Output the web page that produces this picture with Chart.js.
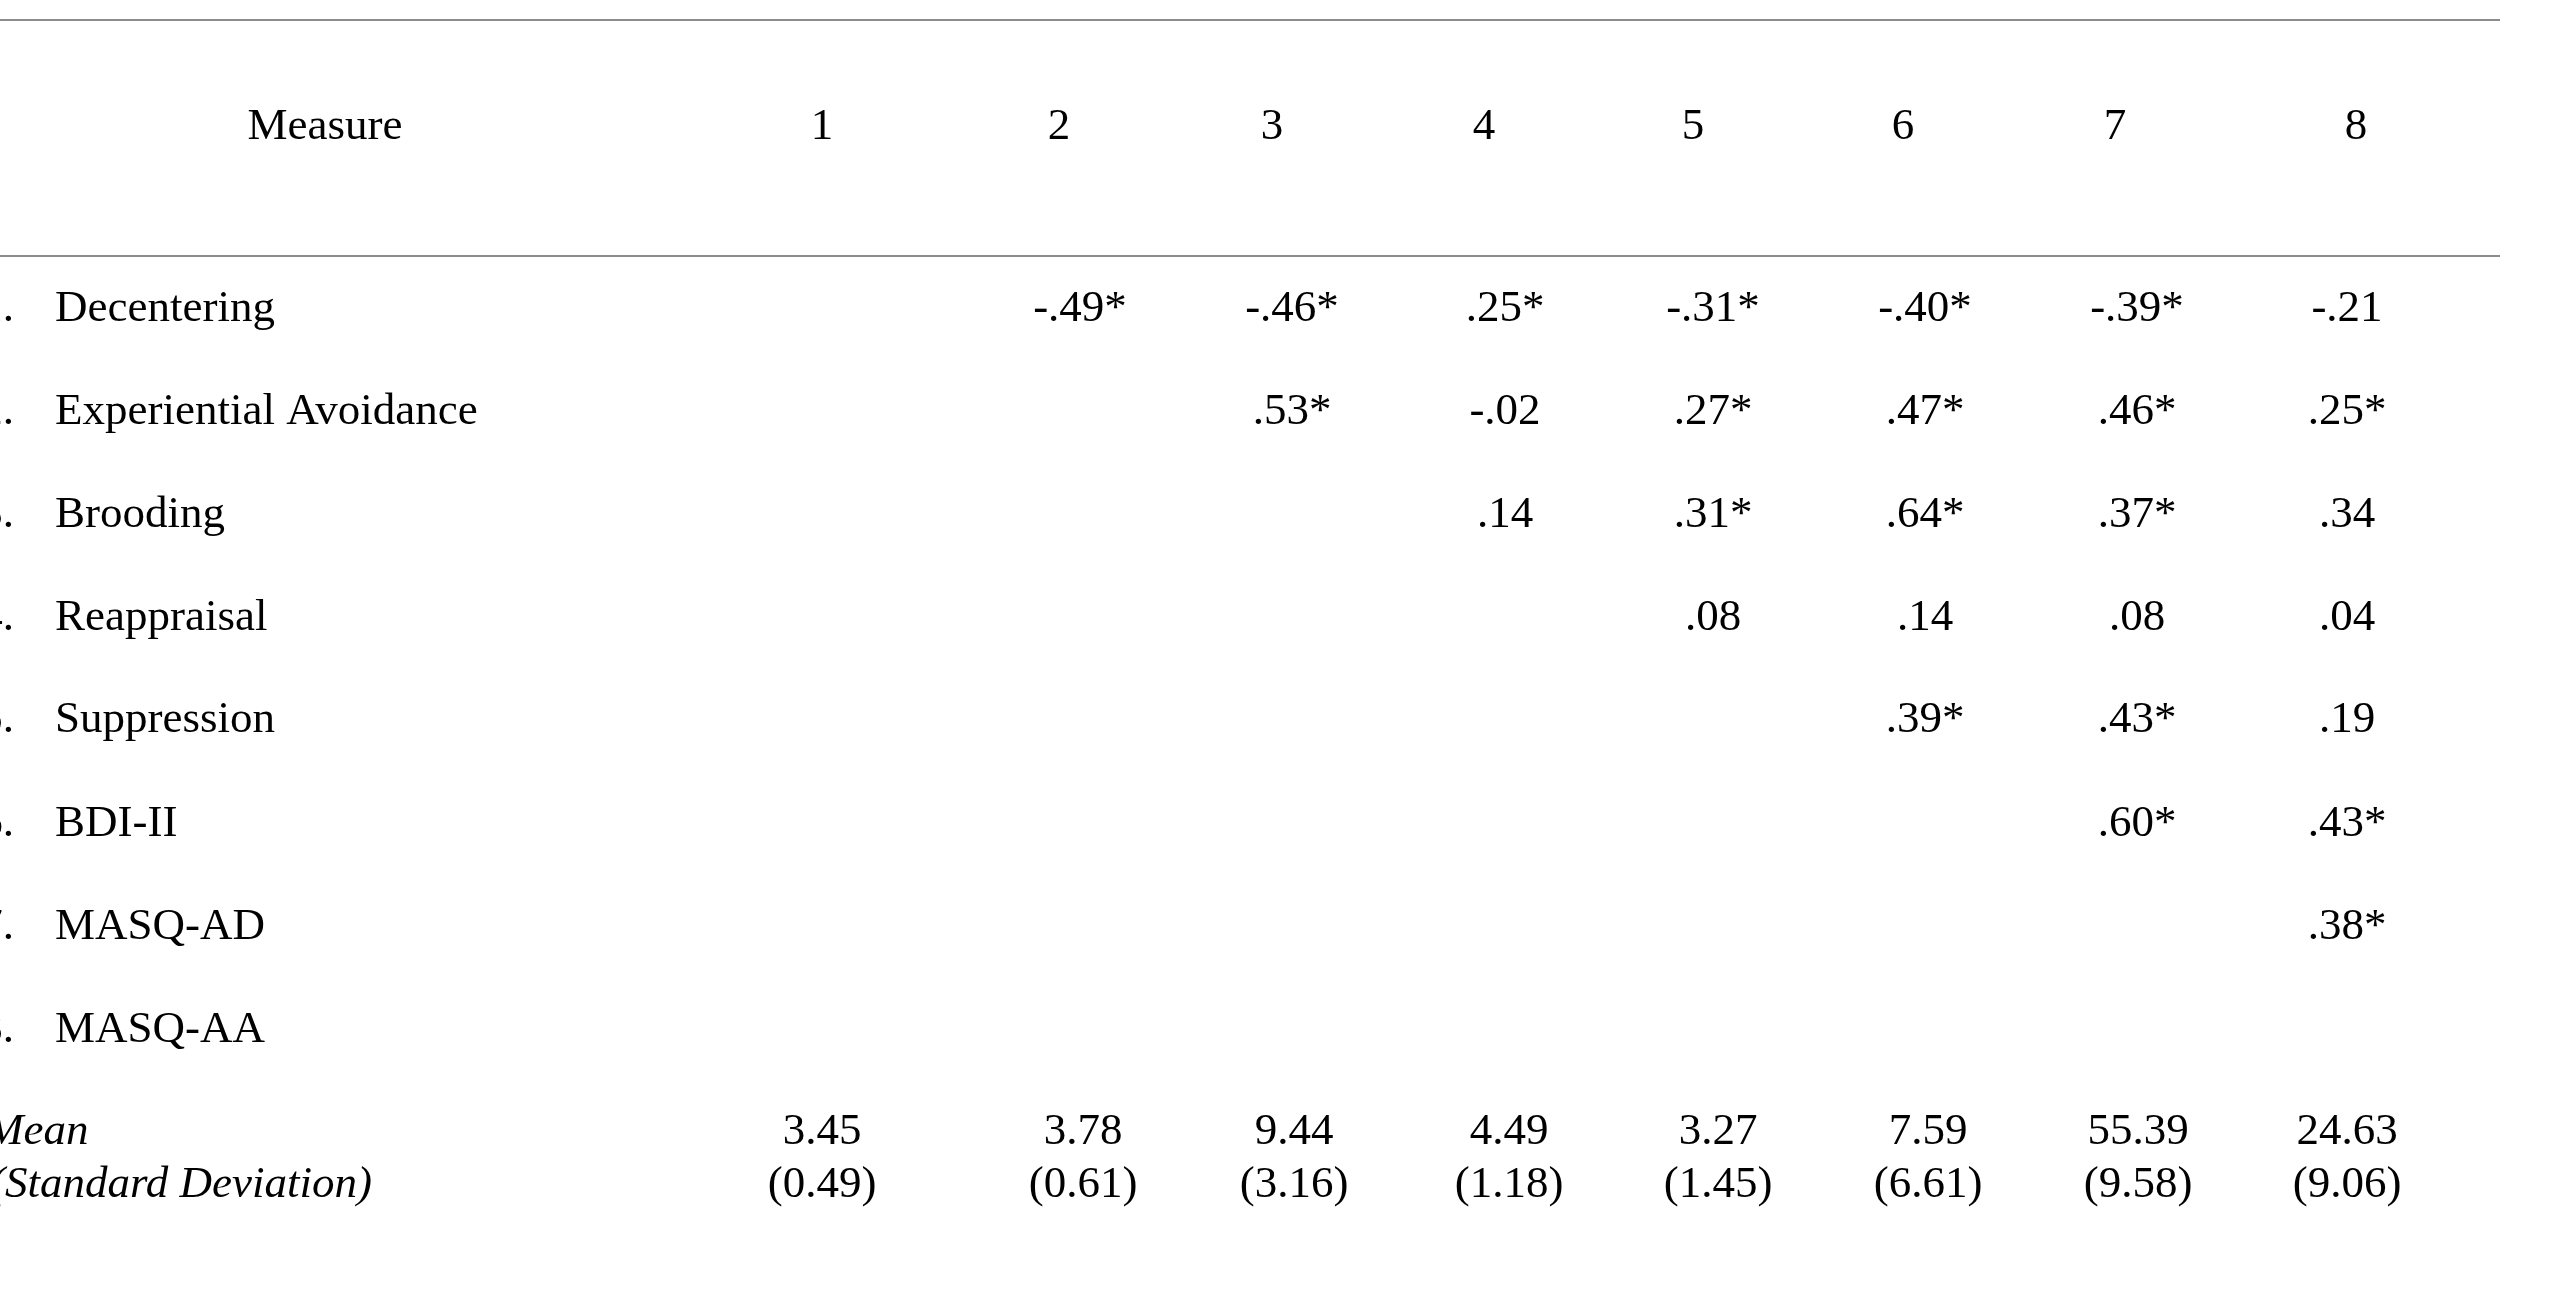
<!DOCTYPE html>
<html><head><meta charset="utf-8">
<script src="https://cdn.jsdelivr.net/npm/chart.js@4"></script>
<style>html,body{margin:0;padding:0;background:#fff;overflow:hidden}</style>
</head><body>
<canvas id="c" width="2556" height="1300" style="width:2556px;height:1300px"></canvas>
<script>
// ---- data ----
const columnHeaders = ["1","2","3","4","5","6","7","8"];
const measures = ["Decentering","Experiential Avoidance","Brooding","Reappraisal","Suppression","BDI-II","MASQ-AD","MASQ-AA"];
const correlations = [
  [null,"-.49*","-.46*",".25*","-.31*","-.40*","-.39*","-.21"],
  [null,null,".53*","-.02",".27*",".47*",".46*",".25*"],
  [null,null,null,".14",".31*",".64*",".37*",".34"],
  [null,null,null,null,".08",".14",".08",".04"],
  [null,null,null,null,null,".39*",".43*",".19"],
  [null,null,null,null,null,null,".60*",".43*"],
  [null,null,null,null,null,null,null,".38*"],
  [null,null,null,null,null,null,null,null]
];
const means = ["3.45","3.78","9.44","4.49","3.27","7.59","55.39","24.63"];
const sds = ["(0.49)","(0.61)","(3.16)","(1.18)","(1.45)","(6.61)","(9.58)","(9.06)"];

// ---- layout (pixel positions in scale units) ----
const headerX = [822,1059,1272,1484,1693,1903,2115,2356];
const cellX   = [822,1080,1292,1505,1713,1925,2137,2347];
const statX   = [822,1083,1294,1509,1718,1928,2138,2347];
const rowY = [309,412,515,618,720,824,927,1030];
const headerY = 127, meanY = 1132, sdY = 1185;
const lines = [20, 256];
const FONT = '"Liberation Serif","Times New Roman",serif';

const pts = [];
correlations.forEach((r,i)=>r.forEach((v,j)=>{ if(v!==null) pts.push({x:cellX[j],y:rowY[i],t:v}); }));

const tablePlugin = {
  id:'table',
  afterDatasetsDraw(chart){
    const {ctx, scales:{x,y}} = chart;
    const X=v=>x.getPixelForValue(v), Y=v=>y.getPixelForValue(v);
    ctx.save();
    ctx.strokeStyle='#666'; ctx.lineWidth=1.5;
    lines.forEach(l=>{ctx.beginPath();ctx.moveTo(X(0),Y(l));ctx.lineTo(X(2500),Y(l));ctx.stroke();});
    ctx.fillStyle='#000'; ctx.textBaseline='middle';
    ctx.font='45px '+FONT;
    ctx.textAlign='center';
    ctx.fillText('Measure',X(325),Y(headerY));
    columnHeaders.forEach((h,j)=>ctx.fillText(h,X(headerX[j]),Y(headerY)));
    measures.forEach((m,i)=>{
      ctx.textAlign='right'; ctx.fillText((i+1)+'.',X(14),Y(rowY[i]));
      ctx.textAlign='left'; ctx.fillText(m,X(55),Y(rowY[i]));
    });
    ctx.textAlign='center';
    chart.data.datasets[0].data.forEach(p=>ctx.fillText(p.t,X(p.x),Y(p.y)));
    means.forEach((m,j)=>ctx.fillText(m,X(statX[j]),Y(meanY)));
    sds.forEach((m,j)=>ctx.fillText(m,X(statX[j]),Y(sdY)));
    ctx.font='italic 45px '+FONT; ctx.textAlign='left';
    ctx.fillText('Mean',X(-14),Y(meanY));
    ctx.fillText('(Standard Deviation)',X(-10),Y(sdY));
    ctx.restore();
  }
};

new Chart(document.getElementById('c'),{
  type:'scatter',
  data:{datasets:[{data:pts,pointRadius:0,pointHoverRadius:0}]},
  options:{
    responsive:false, animation:false, devicePixelRatio:1,
    layout:{padding:0},
    plugins:{legend:{display:false},tooltip:{enabled:false}},
    scales:{
      x:{type:'linear',min:0,max:2556,display:false},
      y:{type:'linear',min:0,max:1300,reverse:true,display:false}
    }
  },
  plugins:[tablePlugin]
});
</script>
</body></html>
